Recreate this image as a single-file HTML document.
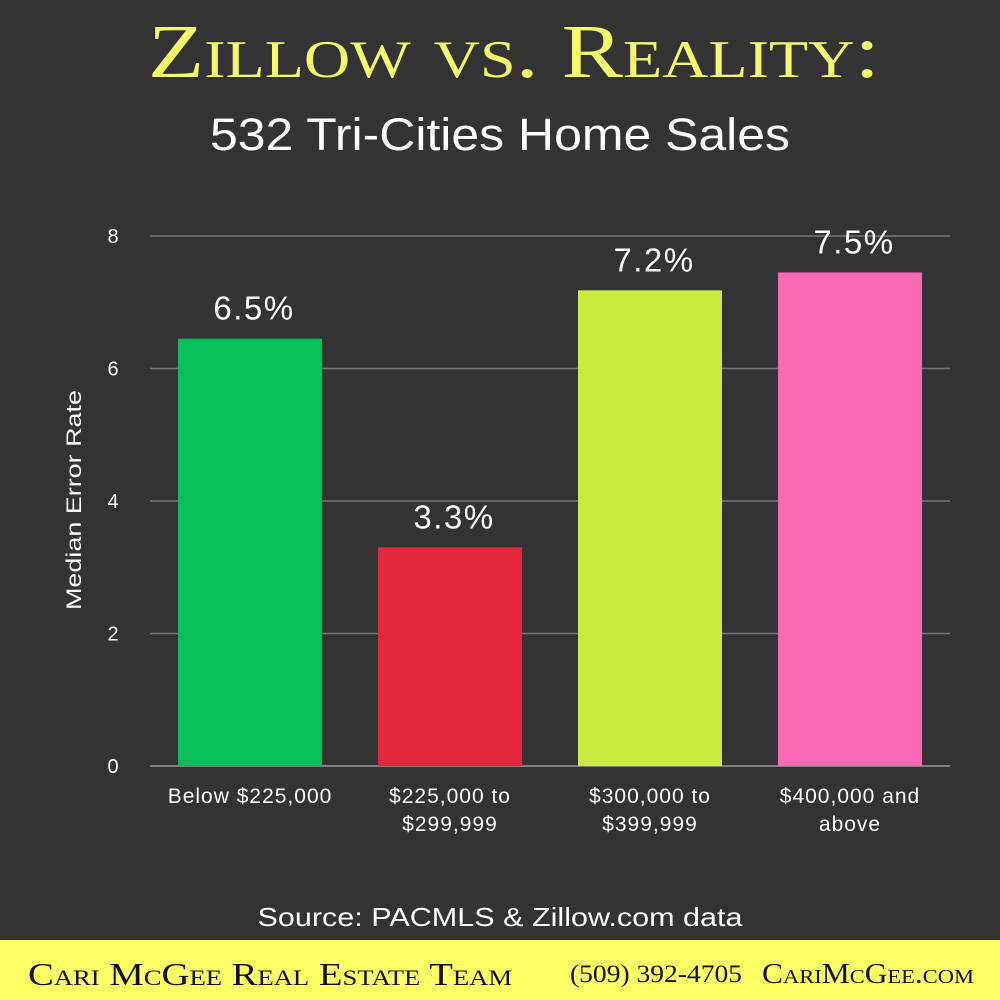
<!DOCTYPE html>
<html><head><meta charset="utf-8"><style>
html,body{margin:0;padding:0;background:#333;}
svg{display:block}
</style></head><body>
<svg id="c" width="1000" height="1000" viewBox="0 0 1000 1000" xmlns="http://www.w3.org/2000/svg">
<rect x="0" y="0" width="1000" height="1000" fill="#333333"/>
<text x="514" y="77" text-anchor="middle" fill="#f7f76a" font-family="Liberation Serif, serif" font-size="76" style="font-variant:small-caps" textLength="732" lengthAdjust="spacingAndGlyphs">Zillow vs. Reality:</text>
<text x="500" y="150" text-anchor="middle" fill="#ffffff" font-family="Liberation Sans, sans-serif" font-size="45" textLength="580" lengthAdjust="spacingAndGlyphs">532 Tri-Cities Home Sales</text>
<g id="grid"></g>
<g id="bars"></g>
<text x="0" y="0" transform="translate(81,500) rotate(-90)" text-anchor="middle" fill="#ffffff" font-family="Liberation Sans, sans-serif" font-size="21" textLength="220" lengthAdjust="spacingAndGlyphs">Median Error Rate</text>
<text x="500" y="926" text-anchor="middle" fill="#ffffff" font-family="Liberation Sans, sans-serif" font-size="26" textLength="485" lengthAdjust="spacingAndGlyphs">Source: PACMLS &amp; Zillow.com data</text>
<rect x="0" y="940" width="1000" height="60" fill="#ffff66"/>
<text x="28" y="985" fill="#111" font-family="Liberation Serif, serif" font-size="32" style="font-variant:small-caps" textLength="484" lengthAdjust="spacingAndGlyphs">Cari McGee Real Estate Team</text>
<text x="570" y="982" fill="#111" font-family="Liberation Serif, serif" font-size="25" textLength="172" lengthAdjust="spacingAndGlyphs">(509) 392-4705</text>
<text x="762" y="983" fill="#111" font-family="Liberation Serif, serif" font-size="28" style="font-variant:small-caps" textLength="212" lengthAdjust="spacingAndGlyphs">CariMcGee.com</text>
</svg>
<script>
const categories = [["Below $225,000"],["$225,000 to","$299,999"],["$300,000 to","$399,999"],["$400,000 and","above"]];
const values = [6.45, 3.3, 7.18, 7.45];
const valueLabels = ["6.5%","3.3%","7.2%","7.5%"];
const colors = ["#08c05a","#e3283d","#c8eb3e","#f968b4"];
const yTicks = [0,2,4,6,8];
const NS="http://www.w3.org/2000/svg";
const x0=150,x1=950,yBase=766,yTop=236,yMax=8;
function y(v){return yBase-(v/yMax)*(yBase-yTop);}
const slot=(x1-x0)/categories.length;
function xc(i){return x0+slot*(i+0.5);}
function mk(tag,attrs,parent){const e=document.createElementNS(NS,tag);for(const k in attrs)e.setAttribute(k,attrs[k]);parent.appendChild(e);return e;}
const grid=document.getElementById('grid'),bars=document.getElementById('bars');
yTicks.forEach(t=>{
  const l=mk('line',{x1:x0,x2:x1,y1:y(t),y2:y(t),stroke:t===0?'#9a9a9a':'#777',"stroke-width":1.5},grid);
  
  
  const tx=mk('text',{x:113,y:y(t)+7,"text-anchor":"middle",fill:"#fff","font-family":"Liberation Sans, sans-serif","font-size":20},grid);
  tx.textContent=t;
  
  
});
values.forEach((v,i)=>{
  const w=144;
  const r=mk('rect',{x:xc(i)-w/2,y:y(v),width:w,height:yBase-y(v),fill:colors[i]},bars);
  
  
  const lab=mk('text',{x:xc(i)+4,y:y(v)-19,"text-anchor":"middle",fill:"#fff","font-family":"Liberation Sans, sans-serif","font-size":33,"letter-spacing":"1.5"},bars);
  lab.textContent=valueLabels[i];
  
  
  categories[i].forEach((line,j)=>{
    const c=mk('text',{x:xc(i),y:803+j*28,"text-anchor":"middle",fill:"#fff","font-family":"Liberation Sans, sans-serif","font-size":21,"letter-spacing":"1"},bars);
    c.textContent=line;
    
    
  });
});
</script>
</body></html>
